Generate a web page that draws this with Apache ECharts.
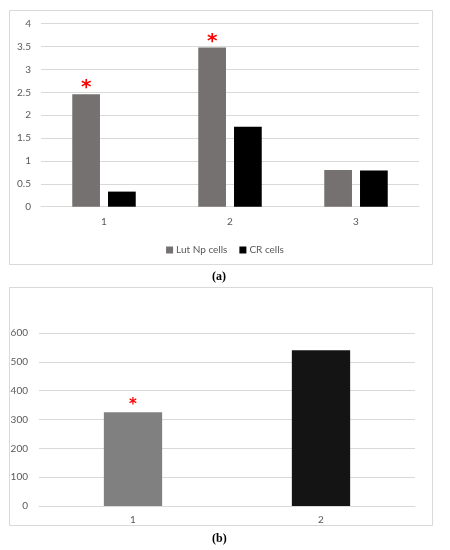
<!DOCTYPE html>
<html>
<head>
<meta charset="utf-8">
<script src="https://cdn.jsdelivr.net/npm/echarts@6/dist/echarts.min.js"></script>
<style>
html,body{margin:0;padding:0;background:#fff;}
#c{width:450px;height:550px;}
</style>
</head>
<body>
<div id="c"></div>
<script>
// Panel (a)
const catsA = ['1', '2', '3'];
const lutNp = [2.46, 3.48, 0.80];
const crCells = [0.33, 1.75, 0.79];
const sigA = [true, true, false];
const seriesNamesA = ['Lut Np cells', 'CR cells'];
// Panel (b)
const catsB = ['1', '2'];
const valuesB = [325, 540];
const sigB = [true, false];

const colA = ['#767171', '#000000'];
const colB = ['#808080', '#141414'];
const gridCol = '#d9d9d9';
const labCol = '#595959';
const font = 'Lato, "Open Sans", sans-serif';

const chart = echarts.init(document.getElementById('c'), null, {renderer: 'canvas'});

const starA = {show: true, position: 'top', distance: -4, formatter: '*', color: '#ff0000', fontSize: 20, fontWeight: 'bold', fontFamily: 'DejaVu Sans'};
const starB = {show: true, position: 'top', distance: 0, formatter: '*', color: '#ff0000', fontSize: 15, fontWeight: 'bold', fontFamily: 'DejaVu Sans'};

const option = {
  animation: false,
  backgroundColor: '#fff',
  textStyle: {fontFamily: font},
  graphic: [
    {type: 'rect', shape: {x: 9.5, y: 10.5, width: 423, height: 254}, style: {fill: 'none', stroke: '#d9d9d9', lineWidth: 1}, silent: true},
    {type: 'rect', shape: {x: 9.5, y: 287.5, width: 423, height: 238}, style: {fill: 'none', stroke: '#d9d9d9', lineWidth: 1}, silent: true},
    {type: 'text', left: 212, top: 271, style: {text: '(a)', fontFamily: '"Liberation Serif", serif', fontWeight: 'bold', fontSize: 12, fill: '#000'}},
    {type: 'text', left: 212, top: 533, style: {text: '(b)', fontFamily: '"Liberation Serif", serif', fontWeight: 'bold', fontSize: 12, fill: '#000'}}
  ],
  legend: {
    data: seriesNamesA,
    top: 240,
    left: 'center',
    icon: 'rect',
    itemWidth: 7,
    itemHeight: 7,
    itemGap: 12,
    textStyle: {fontSize: 10, color: labCol, fontFamily: font, padding: [0, 0, 0, -2]}
  },
  grid: [
    {left: 41, right: 31, top: 23.7, height: 183, containLabel: false},
    {left: 39, right: 35, top: 333, height: 173, containLabel: false}
  ],
  xAxis: [
    {type: 'category', gridIndex: 0, data: catsA,
     axisLine: {lineStyle: {color: gridCol}}, axisTick: {show: false},
     axisLabel: {color: labCol, fontSize: 10, margin: 10}},
    {type: 'category', gridIndex: 1, data: catsB,
     axisLine: {lineStyle: {color: gridCol}}, axisTick: {show: false},
     axisLabel: {color: labCol, fontSize: 10, margin: 9}}
  ],
  yAxis: [
    {type: 'value', gridIndex: 0, min: 0, max: 4, interval: 0.5,
     axisLine: {show: false}, axisTick: {show: false},
     splitLine: {lineStyle: {color: gridCol}},
     axisLabel: {color: labCol, fontSize: 10, margin: 10}},
    {type: 'value', gridIndex: 1, min: 0, max: 600, interval: 100,
     axisLine: {show: false}, axisTick: {show: false},
     splitLine: {lineStyle: {color: gridCol}},
     axisLabel: {color: labCol, fontSize: 10, margin: 11}}
  ],
  series: [
    {name: seriesNamesA[0], type: 'bar', xAxisIndex: 0, yAxisIndex: 0,
     barWidth: '22%', barGap: '29%', itemStyle: {color: colA[0]},
     data: lutNp.map((v, i) => sigA[i] ? {value: v, label: starA} : v)},
    {name: seriesNamesA[1], type: 'bar', xAxisIndex: 0, yAxisIndex: 0,
     barWidth: '22%', barGap: '29%', itemStyle: {color: colA[1]},
     data: crCells},
    {name: 'b', type: 'bar', xAxisIndex: 1, yAxisIndex: 1,
     barWidth: '31%',
     data: valuesB.map((v, i) => {
       const d = {value: v, itemStyle: {color: colB[i]}};
       if (sigB[i]) d.label = starB;
       return d;
     })}
  ]
};
chart.setOption(option);
</script>
</body>
</html>
